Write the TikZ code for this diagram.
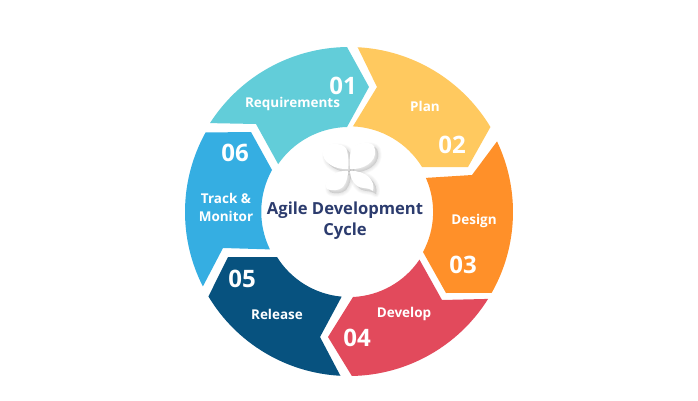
\documentclass[tikz,border=0pt]{standalone}
\usepackage{fontspec}
\setmainfont{Open Sans}
\definecolor{cteal}{HTML}{62CDD9}
\definecolor{cyellow}{HTML}{FFC95F}
\definecolor{corange}{HTML}{FF9029}
\definecolor{cred}{HTML}{E24A5C}
\definecolor{cnavy}{HTML}{07527F}
\definecolor{cblue}{HTML}{35AEE2}
\definecolor{ctitle}{HTML}{2C3C6E}
\newcommand{\petalTL}{(-1,1) .. controls (0,8) and (-1,15) .. (-2,20) .. controls (-4,25) and (-10,26) .. (-15,26) .. controls (-20,26) and (-25,25) .. (-26,19) .. controls (-28,8) and (-14,0) .. (-1,1) -- cycle}
\newcommand{\petalTR}{(1,1) .. controls (0,8) and (1,15) .. (2,20) .. controls (4,26) and (12,27) .. (17,27) .. controls (21,27) and (26,26) .. (26,20) .. controls (28,8) and (14,0) .. (1,1) -- cycle}
\newcommand{\petalBL}{(-1,-1) .. controls (-1,-6) and (-2,-12) .. (-6,-17) .. controls (-10,-21) and (-18,-21) .. (-22,-19) .. controls (-27,-13) and (-18,0) .. (-1,-1) -- cycle}
\newcommand{\petalBR}{(1,-1) .. controls (1,-6) and (3,-12) .. (8,-16) .. controls (12,-19) and (20,-17) .. (24,-21) .. controls (27,-10) and (16,0) .. (1,-1) -- cycle}
\tikzset{
 lbl/.style={text=white,font=\bfseries\fontsize{13.5}{18}\selectfont,align=center,inner sep=0pt},
 num/.style={text=white,font=\bfseries\fontsize{24}{26}\selectfont,inner sep=0pt},
 ttl/.style={text=ctitle,font=\bfseries\fontsize{16.6}{21}\selectfont,align=center,inner sep=0pt},
 shade/.style={fill=black,draw=black,opacity=.018,line join=round}
}
\begin{document}
\begin{tikzpicture}[x=1pt,y=1pt]
\useasboundingbox (0,0) rectangle (698,400);
\fill[white] (0,0) rectangle (698,400);
\begin{scope}[shift={(349,188)}]
\fill[cteal] (147.4:165) arc[start angle=147.4,end angle=90.7,radius=165] -- (20,125) -- (-2,85) arc[start angle=91.3,end angle=145.4,radius=86] -- (-93,88) -- cycle;
\fill[cyellow] (87:165) arc[start angle=87,end angle=31,radius=165] -- (119,45) -- (73,45) arc[start angle=31.6,end angle=87.5,radius=85.5] -- (28,125) -- cycle;
\fill[corange] (25.5:164) arc[start angle=25.5,end angle=-29.5,radius=164] -- (97,-81) -- (74,-40) arc[start angle=-28.4,end angle=24,radius=84] -- (123,37) -- cycle;
\fill[cred] (-32:164) arc[start angle=-32,end angle=-89,radius=164] -- (-21,-125) -- (4,-85) arc[start angle=-87.3,end angle=-34,radius=85] -- (93,-88) -- cycle;
\fill[cnavy] (-93:164) arc[start angle=-93,end angle=-149,radius=164] -- (-121,-45) -- (-72,-45) arc[start angle=-148,end angle=-95,radius=85] -- (-29,-125) -- cycle;
\fill[cblue] (-153:164) arc[start angle=-153,end angle=-209,radius=164] -- (-98,80) -- (-77,42) arc[start angle=151,end angle=206,radius=86] -- (-126,-36) -- cycle;
% logo: four white petals with a soft shadow
\begin{scope}[shift={(0,42)}]
\foreach \w in {1,2.5,4,5.5,7}{
 \begin{scope}[shift={(3,-3)}]
 \path[shade,line width=\w pt] \petalTL;
 \path[shade,line width=\w pt] \petalTR;
 \path[shade,line width=\w pt] \petalBL;
 \path[shade,line width=\w pt] \petalBR;
 \end{scope}
}
\fill[white] \petalTL;
\fill[white] \petalTR;
\fill[white] \petalBL;
\fill[white] \petalBR;
\end{scope}
\end{scope}
\node[lbl] (req) at (292.5,296) {Requirements};
\node[num] (n1) at (343,314) {01};
\node[lbl] (plan) at (425,294) {Plan};
\node[num] (n2) at (452,255) {02};
\node[lbl] (des) at (474,179) {Design};
\node[num] (n3) at (463,135) {03};
\node[lbl] (dev) at (404,86) {Develop};
\node[num] (n4) at (357,62) {04};
\node[lbl] (rel) at (277,86) {Release};
\node[num] (n5) at (242,121) {05};
\node[num] (n6) at (235,247) {06};
\node[lbl] (trk) at (226,193) {Track \&\\Monitor};
\node[ttl] (ttl) at (345,179.5) {Agile Development\\Cycle};
\end{tikzpicture}
\end{document}
